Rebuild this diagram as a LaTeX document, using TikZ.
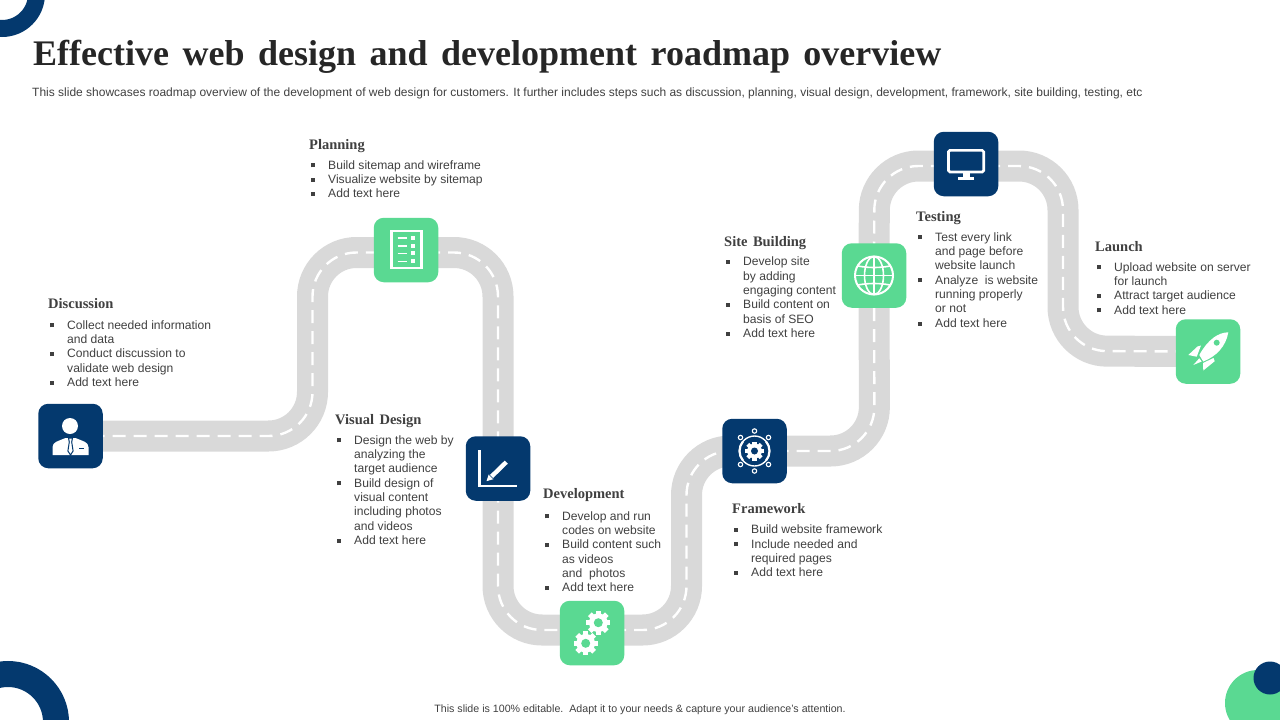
\documentclass[tikz,border=0pt]{standalone}
\usepackage{fontspec}
\setmainfont{Liberation Sans}
\newfontfamily\headfont{Liberation Serif}
\newfontfamily\titlefont[WordSpace=1.5]{Liberation Serif}
\usetikzlibrary{positioning}
\definecolor{roadgray}{RGB}{217, 217, 217}
\definecolor{navyblue}{RGB}{4, 57, 110}
\definecolor{pastelgreen}{RGB}{90, 217, 146}
\definecolor{textgray}{RGB}{64, 64, 64}
\pgfdeclarelayer{bg}
\pgfsetlayers{bg,main}
\newcommand{\sqitem}{\makebox[19pt][l]{\hspace{1.5pt}\rule[1.8pt]{4pt}{4pt}}}
\newcommand{\contline}{\hspace*{19pt}}
\newcommand{\roadseg}[1]{\draw[road] #1; \draw[lane] #1;}
\newcommand{\gearicon}[5]{% x, y, outer radius, hole radius, hole colour
  \foreach \a in {0,45,...,315} {\fill[white,shift={(#1,#2)},rotate=\a] (-.22*#3,-#3) rectangle (.22*#3,0);}
  \fill[white] (#1,#2) circle (.78*#3);
  \fill[#5] (#1,#2) circle (#4);}

\begin{document}
\begin{tikzpicture}
  [x=1pt,y=-1pt,
  road/.style={draw=roadgray, line width=31pt, rounded corners=44pt},
  lane/.style={draw=white, line width=2.4pt, dash pattern=on 13pt off 8pt, rounded corners=44pt},
  navybox/.style={rectangle, minimum size=64.5pt, inner sep=0pt, rounded corners=10pt, fill=navyblue},
  greenbox/.style={rectangle, minimum size=64.5pt, inner sep=0pt, rounded corners=10pt, fill=pastelgreen},
  steptitle/.style={anchor=west, inner sep=0pt, text height=11pt, text depth=3.5pt, text=textgray, font=\headfont\fontsize{14.5}{16}\selectfont\bfseries},
  steplist/.style={below=6.8pt of #1.south west, anchor=north west, inner sep=0pt, align=left, text=textgray, font=\fontsize{12.1}{14.35}\selectfont},
  iconline/.style={draw=white, line width=2.8pt}]
  \useasboundingbox (0,0) rectangle (1280,720);
  \clip (0,0) rectangle (1280,720);

% Corners
\draw[navyblue, line width=17pt] (2,-6) circle (34.5);
\draw[navyblue, line width=26pt] (8,722) circle (48);
\fill[pastelgreen] (1258,703) circle (33);
\fill[navyblue] (1270,678) circle (16.5);

% Heading
\node (title) [anchor=west, inner sep=0pt, text=black!85, font=\titlefont\fontsize{36}{40}\selectfont\bfseries] at (33,56.5) {Effective web design and development roadmap overview};
\node (subtitle) [anchor=west, inner sep=0pt, text=textgray, font=\fontsize{12}{14}\selectfont] at (32,93) {This slide showcases roadmap overview of the development of web design for customers. It further includes steps such as discussion, planning, visual design, development, framework, site building, testing, etc};
\node (footer) [inner sep=0pt, text=textgray, font=\fontsize{10.65}{12}\selectfont] at (640,709.5) {This slide is 100\% editable.\ \ Adapt it to your needs \& capture your audience's attention.};

% Icon boxes
\node (discussion) [navybox] at (70.5,436) {};
\node (planning) [greenbox] at (406,250) {};
\node (visualdesign) [navybox] at (498,468.5) {};
\node (development) [greenbox] at (592,633) {};
\node (framework) [navybox] at (754.5,451) {};
\node (sitebuilding) [greenbox] at (874,275.5) {};
\node (testing) [navybox] at (966,164) {};
\node (launch) [greenbox] at (1208,351.5) {};

% Road
\coordinate (turn-a) at (312.5,436);
\coordinate (turn-b) at (312.5,252.5);
\coordinate (turn-c) at (498,252.5);
\coordinate (turn-d) at (498,630);
\coordinate (turn-e) at (686.5,630);
\coordinate (turn-f) at (686.5,451);
\coordinate (turn-g) at (874.5,451);
\coordinate (turn-h) at (874.5,166);
\coordinate (turn-i) at (1063,166);
\coordinate (turn-j) at (1063,351);
\begin{pgfonlayer}{bg}
  \roadseg{(discussion.center) -- (turn-a) -- (turn-b) -- (turn-b -| planning)}
  \roadseg{(turn-c -| planning) -- (turn-c) -- (visualdesign.center)}
  \roadseg{(visualdesign.center) -- (turn-d) -- (turn-d -| development)}
  \roadseg{(turn-d -| development) -- (turn-e) -- (turn-f) -- (framework.center)}
  \roadseg{(framework.center) -- (turn-g) -- (sitebuilding.center)}
  \roadseg{(sitebuilding.center) -- (turn-h) -- (turn-h -| testing)}
  \roadseg{(turn-h -| testing) -- (turn-i) -- (turn-j) -- (launch.center)}
\end{pgfonlayer}

% Discussion
\node (discussion-title) [steptitle] at (48,305) {Discussion};
\node (discussion-list) [steplist=discussion-title, yshift=-1pt] {\sqitem Collect needed information\\\contline and data\\\sqitem Conduct discussion to\\\contline validate web design\\\sqitem Add text here};
\begin{scope}[shift={(discussion)}]
  \fill[white] (-.5,-10) circle (8);
  \fill[white] (-18,19) -- (-18,11) .. controls (-18,6) and (-12,5) .. (-5,2) -- (5,2) .. controls (12,5) and (18,6) .. (18,11) -- (18,19) -- cycle;
  \draw[navyblue, line width=1pt, fill=white] (-2,2) -- (2,2) -- (1.2,6) -- (2.6,15) -- (0,19) -- (-2.6,15) -- (-1.2,6) -- cycle;
  \draw[navyblue, line width=1pt] (8.5,12) -- (13.5,12);
\end{scope}

% Planning
\node (planning-title) [steptitle] at (309,146) {Planning};
\node (planning-list) [steplist=planning-title] {\sqitem Build sitemap and wireframe\\\sqitem Visualize website by sitemap\\\sqitem Add text here};
\begin{scope}[shift={(planning)}]
  \draw[iconline] (-14.5,-19) rectangle (15.5,18);
  \foreach \y in {-12.3,-4.3,3.3,11.3} {
    \draw[white, line width=1.6pt] (-8.3,\y) -- (.7,\y);
    \fill[white] (4.8,\y-2) rectangle (9,\y+2);
  }
\end{scope}

% Visual design
\node (visualdesign-title) [steptitle] at (335,421) {Visual Design};
\node (visualdesign-list) [steplist=visualdesign-title] {\sqitem Design the web by\\\contline analyzing the\\\contline target audience\\\sqitem Build design of\\\contline visual content\\\contline including photos\\\contline and videos\\\sqitem Add text here};
\begin{scope}[shift={(visualdesign)}]
  \draw[iconline] (-18.5,-18.5) -- (-18.5,17.5) -- (18.7,17.5);
  \draw[white, line width=4.4pt] (-7,8.5) -- (8.3,-6.4);
  \fill[white] (-11.5,12.7) -- (-9.2,5.8) -- (-4.4,10.6) -- cycle;
  \draw[navyblue, line width=.7pt] (-9.2,5.8) -- (-4.4,10.6);
\end{scope}

% Development
\node (development-title) [steptitle] at (543,495) {Development};
\node (development-list) [steplist=development-title, yshift=-2pt] {\sqitem Develop and run\\\contline codes on website\\\sqitem Build content such\\\contline as videos\\\contline and\ \ photos\\\sqitem Add text here};
\begin{scope}[shift={(development)}]
  \gearicon{6.3}{-10.3}{12}{4.5}{pastelgreen}
  \gearicon{-6.3}{10.3}{12}{4.5}{pastelgreen}
\end{scope}

% Framework
\node (framework-title) [steptitle] at (732,510) {Framework};
\node (framework-list) [steplist=framework-title, yshift=-.5pt] {\sqitem Build website framework\\\sqitem Include needed and\\\contline required pages\\\sqitem Add text here};
\begin{scope}[shift={(framework)}]
  \gearicon{0}{0}{9.5}{3.5}{navyblue}
  \draw[white, line width=1.4pt] (0,0) circle (15);
  \draw[white, line width=2.2pt] (15,0) arc (0:40:15) (15,0) arc (0:-40:15) (-15,0) arc (180:140:15) (-15,0) arc (180:220:15);
  \foreach \x/\y in {0/-20,0/20,-14/-13.5,14/-13.5,-14/13.5,14/13.5} {
    \draw[white, line width=1.1pt, fill=navyblue] (\x,\y) circle (2.2);
  }
\end{scope}

% Site building
\node (sitebuilding-title) [steptitle] at (724,243) {Site Building};
\node (sitebuilding-list) [steplist=sitebuilding-title, yshift=.5pt] {\sqitem Develop site\\\contline by adding\\\contline engaging content\\\sqitem Build content on\\\contline basis of SEO\\\sqitem Add text here};
\begin{scope}[shift={(sitebuilding)}]
  \draw[white, line width=2pt] (0,0) circle (19);
  \draw[white, line width=1.6pt] (0,0) ellipse (9.5 and 19);
  \draw[white, line width=1.6pt] (0,-19) -- (0,19) (-19,0) -- (19,0);
  \draw[white, line width=1.6pt] (-16,-9.5) .. controls (-6,-7.5) and (6,-7.5) .. (16,-9.5);
  \draw[white, line width=1.6pt] (-16,9.5) .. controls (-6,7.5) and (6,7.5) .. (16,9.5);
\end{scope}

% Testing
\node (testing-title) [steptitle] at (916,218) {Testing};
\node (testing-list) [steplist=testing-title] {\sqitem Test every link\\\contline and page before\\\contline website launch\\\sqitem Analyze\ \ is website\\\contline running properly\\\contline or not\\\sqitem Add text here};
\begin{scope}[shift={(testing)}]
  \draw[white, line width=2.6pt, rounded corners=1.5pt] (-17.5,-13.7) rectangle (17.7,8);
  \fill[white] (-3.5,9) rectangle (3.5,13.5);
  \fill[white] (-8.3,13.3) rectangle (8.3,16);
\end{scope}

% Launch
\node (launch-title) [steptitle] at (1095,248) {Launch};
\node (launch-list) [steplist=launch-title] {\sqitem Upload website on server\\\contline for launch\\\sqitem Attract target audience\\\sqitem Add text here};
\begin{scope}[shift={(launch)}]
  \fill[white] (20.3,-19.2) .. controls (10,-19) and (0,-12) .. (-8.7,3.5) -- (-4.7,10) .. controls (8,5) and (18,-5) .. cycle;
  \fill[pastelgreen] (8.7,-8.8) circle (3);
  \fill[white] (-19.7,3.5) -- (-10.5,-5) -- (-7,-6) -- (-11.3,5.2) -- cycle;
  \fill[white] (-4.7,19) -- (6.7,9.7) -- (5.5,6.5) -- (-5,11.5) -- cycle;
  \fill[white] (-14.7,13.5) -- (-8.7,6.8) -- (-6.3,10) -- cycle;
\end{scope}
\end{tikzpicture}
\end{document}
